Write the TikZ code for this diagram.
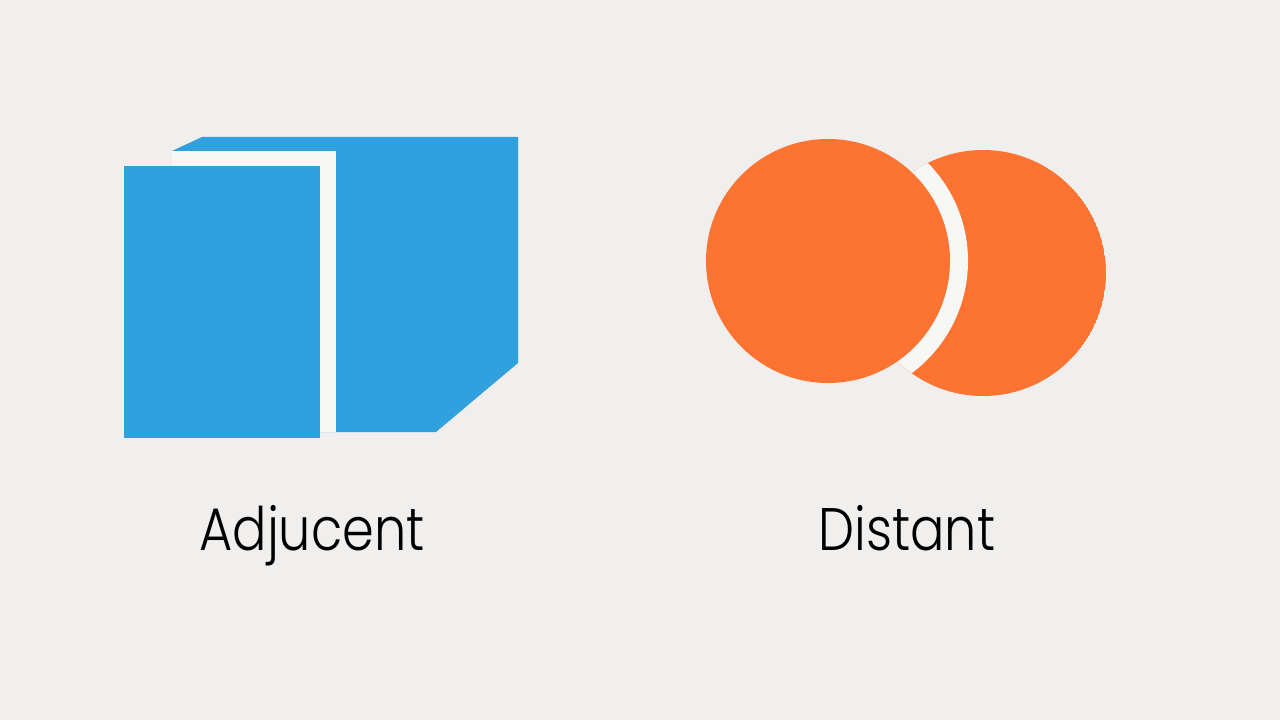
\documentclass[tikz,border=0pt]{standalone}
\usepackage{fontspec}
\setmainfont{Poppins}[UprightFont=* Light]
\definecolor{bg}{HTML}{F0EFED}
\definecolor{gapwhite}{HTML}{F7F7F6}
\definecolor{cubeblue}{HTML}{30A0DF}
\definecolor{discorange}{HTML}{FC7332}
\begin{document}
\begin{tikzpicture}[x=0.75pt,y=-0.75pt,
  label text/.style={font=\fontsize{45}{54}\selectfont, text=black, inner sep=0pt, anchor=base, xscale=0.85, transform shape}]
\fill[bg] (0,0) rectangle (1280,720);
\useasboundingbox (0,0) rectangle (1280,720);
% back block
\fill[cubeblue] (172,151) -- (202,137) -- (518,137) -- (518,363) -- (436,432) -- (172,432) -- cycle;
\begin{scope}
  \clip (172,151) -- (202,137) -- (518,137) -- (518,363) -- (436,432) -- (172,432) -- cycle;
  \fill[gapwhite] (110,151) rectangle (336,440);
\end{scope}
% front block
\fill[cubeblue] (124,166) rectangle (320,438);
% discs
\begin{scope}
  \clip (983,273) circle (123);
  \fill[discorange] (983,273) circle (123);
  \fill[gapwhite] (828,261) circle (140);
\end{scope}
\fill[discorange] (828,261) circle (122);
\node[label text] (adj) at (312,550) {Adjucent};
\node[label text] (dist) at (907,550) {Distant};
\end{tikzpicture}
\end{document}
